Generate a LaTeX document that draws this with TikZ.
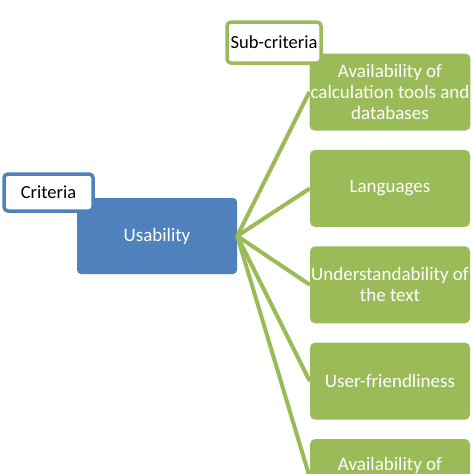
\documentclass[tikz,border=0pt]{standalone}
\usepackage{fontspec}
\setmainfont{Carlito}
\usetikzlibrary{positioning}
\definecolor{critblue}{HTML}{4F81BD}
\definecolor{subgreen}{HTML}{9BBB59}
\begin{document}
\begin{tikzpicture}[
  x=1pt,y=-1pt,
  node distance=19pt,
  main/.style={fill=critblue,rounded corners=4pt,text=white,align=center,minimum width=160pt,minimum height=76pt,font=\fontsize{19}{21}\selectfont},
  sub/.style={fill=subgreen,rounded corners=5pt,text=white,align=center,minimum width=160pt,minimum height=77pt,inner sep=1pt,font=\fontsize{19}{21}\selectfont},
  tag/.style={fill=white,line width=3.5pt,rounded corners=4pt,align=center,inner sep=1pt,font=\fontsize{18.5}{21}\selectfont},
  link/.style={draw=subgreen,line width=4pt}
]
\useasboundingbox (0,0) rectangle (474,474);
\node[main] (use) at (157,236) {Usability};
\node[tag,draw=critblue,minimum width=89pt,minimum height=37pt] (crit) at (48.5,192.5) {Criteria};
\node[sub] (tools) at (390,92) {Availability of\\calculation tools and\\databases};
\node[sub,below=of tools] (lang) {Languages};
\node[sub,below=of lang] (text) {Understandability of\\the text};
\node[sub,below=of text] (user) {User-friendliness};
\node[sub,below=of user] (info) {Availability of\\\strut};
\node[tag,draw=subgreen,minimum width=94pt,minimum height=41pt] (subcrit) at (274,42.5) {Sub-criteria};
\draw[link] (use.east) -- (tools.west);
\draw[link] (use.east) -- (lang.west);
\draw[link] (use.east) -- (text.west);
\draw[link] (use.east) -- (user.west);
\draw[link] (use.east) -- (info.west);
\end{tikzpicture}
\end{document}
